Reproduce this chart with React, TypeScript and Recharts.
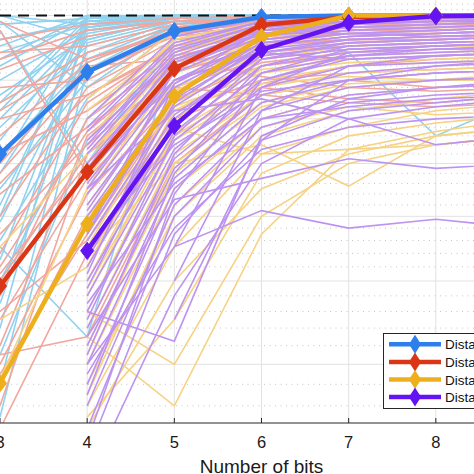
import React from 'react';
import { LineChart, Line, XAxis, YAxis, CartesianGrid, Legend } from 'recharts';

const bits = [3, 4, 5, 6, 7, 8, 9];

// thick mean curves
const distance1 = [62, 82.3, 94.8, 99.5, 100, 100, 100];
const distance2 = [39.3, 58.3, 83.2, 96.8, 99.5, 99.8, 100];
const distance3 = [28.1, 48.7, 75.7, 92.9, 100, 100, 100];
const distance4 = [null, 44.4, 68.3, 88.8, 97.5, 99.8, 100];
const seriesNames = ['Distance 1', 'Distance 2', 'Distance 3', 'Distance 4'];
const targetLevel = [100, 100, 100, 100, 100, 100, 100];

// individual runs, one array per run (bits 3..9)
const blueRuns = [
  [97, 99, 100, 100, 100, 100, 100], [92, 98, 100, 100, 100, 100, 100],
  [88, 97, 99, 100, 100, 100, 100], [84, 99, 100, 100, 100, 100, 100],
  [80, 95, 99, 100, 100, 100, 100], [76, 93, 98, 100, 100, 100, 100],
  [72, 98, 99, 100, 100, 100, 100], [68, 90, 97, 99, 100, 100, 100],
  [65, 96, 100, 100, 100, 100, 100], [62, 85, 96, 99, 100, 100, 100],
  [58, 92, 99, 100, 100, 100, 100], [55, 80, 94, 99, 100, 100, 100],
  [52, 97, 99, 100, 100, 100, 100], [49, 88, 98, 100, 100, 100, 100],
  [46, 75, 95, 99, 100, 100, 100], [43, 94, 99, 100, 100, 100, 100],
  [40, 70, 92, 98, 100, 100, 100], [37, 86, 97, 100, 100, 100, 100],
  [34, 99, 100, 100, 100, 100, 100], [31, 65, 90, 97, 99, 100, 100],
  [28, 91, 98, 100, 100, 100, 100], [100, 92, 99, 100, 100, 100, 100],
  [98, 78, 96, 100, 100, 100, 100], [95, 60, 93, 99, 100, 100, 100],
  [45, 33, 88, 99, 100, 100, 100], [70, 95, 98, 97, 88, 66, 75],
  [90, 100, 99, 100, 100, 100, 100], [25, 83, 97, 100, 100, 100, 100],
  [86, 100, 100, 100, 100, 100, 100], [74, 99, 100, 100, 100, 100, 100],
  [60, 98, 100, 100, 100, 100, 100], [50, 100, 99, 100, 100, 100, 100],
  [38, 96, 99, 100, 100, 100, 100], [100, 97, 100, 100, 100, 100, 100],
];
const salmonRuns = [
  [92, 97, 99, 100, 100, 100, 100], [88, 90, 97, 99, 100, 100, 100],
  [83, 93, 98, 99, 100, 100, 100], [78, 80, 94, 98, 99, 100, 100],
  [74, 88, 96, 98, 99, 99, 100], [70, 76, 90, 96, 98, 99, 99],
  [66, 85, 95, 97, 98, 98, 99], [62, 72, 88, 95, 97, 98, 98],
  [58, 82, 93, 96, 97, 97, 98], [54, 68, 85, 92, 95, 96, 96],
  [50, 78, 92, 95, 96, 97, 97], [47, 64, 82, 90, 93, 94, 95],
  [44, 74, 90, 94, 95, 95, 96], [41, 60, 80, 88, 91, 92, 93],
  [38, 70, 87, 92, 94, 94, 95], [35, 57, 78, 86, 89, 90, 91],
  [32, 66, 84, 90, 92, 93, 93], [30, 54, 75, 84, 87, 88, 89],
  [28, 50, 72, 80, 82, 83, 84], [26, 62, 83, 88, 90, 91, 92],
  [31, 33, 60, 76, 80, 78, 79], [36, 46, 70, 78, 75, 74, 76],
  [98, 86, 95, 98, 99, 100, 100], [95, 58, 86, 94, 96, 97, 97],
  [24, 44, 66, 79, 84, 86, 87], [40, 62, 78, 76, 74, 73, 74],
  [60, 84, 86, 81, 78, 77, 78], [86, 95, 98, 99, 99, 99, 100],
  [72, 86, 94, 96, 96, 96, 97], [56, 76, 89, 93, 94, 94, 95],
  [42, 67, 86, 91, 92, 92, 93], [29, 47, 74, 85, 88, 89, 89],
];
const yellowRuns = [
  [null, 75, 95, 99, 100, 100, 100], [null, 70, 92, 98, 99, 100, 100],
  [null, 65, 90, 97, 99, 99, 100], [null, 60, 88, 96, 98, 99, 99],
  [null, 57, 85, 94, 97, 98, 98], [null, 54, 82, 92, 95, 96, 97],
  [null, 51, 80, 90, 93, 94, 95], [null, 48, 77, 88, 91, 92, 93],
  [null, 45, 74, 86, 90, 91, 92], [null, 42, 72, 84, 88, 90, 90],
  [null, 40, 70, 83, 86, 87, 88], [null, 38, 67, 80, 84, 85, 86],
  [null, 36, 65, 78, 82, 83, 84], [null, 34, 62, 76, 80, 82, 83],
  [null, 32, 58, 73, 78, 80, 81], [null, 30, 55, 70, 76, 78, 79],
  [null, 28, 50, 66, 72, 75, 77], [null, 26, 45, 62, 68, 72, 74],
  [null, 33, 26, 47, 63, 67, 70], [null, 44, 60, 64, 55.5, 66, 68],
  [null, 50, 68, 62, 63, 64, 66], [45, 62, 82, 93, 96, 97, 98],
  [35, 42, 76, 90, 94, 95, 96], [28.5, 55, 87, 96, 98, 99, 99],
  [null, 24, 40, 55, 62, 66, 68], [null, 36, 30, 50, 60, 64, 66],
  [null, 72, 91, 96, 97, 98, 98], [null, 62, 86, 93, 95, 96, 96],
  [null, 52, 78, 87, 90, 91, 92], [null, 46, 73, 82, 85, 86, 87],
  [null, 39, 66, 79, 81, 80, 82], [null, 31, 60, 74, 79, 80, 80],
  [null, 27, 52, 68, 73, 71, 72], [null, 25, 35, 58, 66, 69, 71],
];
const violetRuns = [
  [null, 70, 93, 99, 100, 100, 100], [null, 67, 90, 98, 99, 100, 100],
  [null, 64, 89, 97, 99, 99, 100], [null, 62, 87, 96, 98, 99, 99],
  [null, 60, 85, 95, 98, 98, 99], [null, 58, 84, 94, 97, 98, 98],
  [null, 56, 82, 93, 96, 97, 98], [null, 54, 80, 92, 95, 96, 97],
  [null, 52, 78, 91, 94, 95, 96], [null, 50, 76, 90, 93, 94, 95],
  [null, 48, 75, 89, 92, 93, 94], [null, 46, 73, 88, 91, 92, 93],
  [null, 44, 71, 87, 90, 91, 92], [null, 42, 69, 86, 89, 90, 91],
  [null, 40, 67, 84, 88, 89, 90], [null, 38, 65, 82, 87, 88, 89],
  [null, 36, 63, 80, 86, 87, 88], [null, 34, 61, 78, 84, 85, 86],
  [null, 32, 59, 76, 82, 84, 85], [null, 30, 57, 74, 80, 82, 83],
  [null, 28, 55, 72, 78, 80, 81], [null, 26, 52, 70, 76, 78, 79],
  [null, 24, 50, 68, 74, 76, 77], [null, 22, 47, 65, 72, 74, 76],
  [null, 36, 32.5, 66, 75, 78, 80], [null, 30, 45, 51, 48, 49.5, 48],
  [null, 55, 72, 75, 70, 64, 66], [null, null, 45, 78, 88, 90, 91],
  [null, null, 40, 72, 84, 87, 88], [null, null, 35, 65, 80, 84, 86],
  [null, 65, 86, 94, 94, 93, 94], [null, 58, 80, 88, 86, 87, 88],
  [null, 20, 38, 60, 70, 73, 75], [null, 47, 83, 96, 99, 99, 100],
  [null, 41, 79, 95, 98, 99, 99], [null, 68, 91, 98, 99, 100, 100],
  [null, 63, 88, 97, 98, 99, 99], [null, 59, 86, 95, 97, 98, 99],
  [null, 55, 83, 94, 96, 97, 98], [null, 51, 79, 92, 95, 96, 97],
  [null, 47, 76, 91, 94, 95, 96], [null, 43, 74, 90, 93, 94, 95],
  [null, 39, 70, 88, 92, 93, 94], [null, 35, 66, 86, 91, 92, 93],
  [null, 31, 62, 84, 90, 91, 92], [null, 27, 58, 82, 89, 90, 91],
  [null, 23, 54, 80, 87, 89, 90], [null, 45, 64, 77, 80, 82, 83],
  [null, 37, 56, 70, 73, 75, 76], [null, 29, 48, 63, 68, 70, 71],
  [null, 33, 53, 57, 61, 59, 60],
];

const majorLevels = [30, 40, 50, 60, 70, 80, 90, 100];
const minorLevels = [26, 28, 32, 34, 36, 38, 42, 44, 46, 48, 52, 54, 56, 58, 62, 64, 66, 68, 72, 74, 76, 78, 82, 84, 86, 88, 92, 94, 96, 98, 102, 104];

const font = '"Liberation Sans", Arial, Helvetica, sans-serif';
const ink = '#262626';

const thinGroups = [
  { key: 'b', runs: blueRuns, color: '#8fd2ef' },
  { key: 's', runs: salmonRuns, color: '#f1a69e' },
  { key: 'y', runs: yellowRuns, color: '#f6d283' },
  { key: 'v', runs: violetRuns, color: '#bd93f1' },
];
const thickSeries = [
  { key: 'd1', values: distance1, color: '#2e7fec', name: seriesNames[0] },
  { key: 'd2', values: distance2, color: '#da3615', name: seriesNames[1] },
  { key: 'd3', values: distance3, color: '#edb01c', name: seriesNames[2] },
  { key: 'd4', values: distance4, color: '#6413f2', name: seriesNames[3] },
];

const rows = bits.map((b, i) => {
  const r: Record<string, number | null> = { bits: b, target: targetLevel[i] };
  thinGroups.forEach((g) => g.runs.forEach((run, j) => { r[`${g.key}${j}`] = run[i]; }));
  thickSeries.forEach((s) => { r[s.key] = s.values[i]; });
  return r;
});

const diamond = (cx: number, cy: number, w: number, h: number) =>
  `M${cx},${cy - h / 2} L${cx + w / 2},${cy} L${cx},${cy + h / 2} L${cx - w / 2},${cy} Z`;

const makeDot = (color: string) => (p: any) => {
  const { cx, cy, index, dataKey } = p;
  if (cx == null || cy == null || p.value == null) return <g key={`${dataKey}-${index}`} />;
  return <path key={`${dataKey}-${index}`} d={diamond(cx, cy, 13, 17)} fill={color} stroke={color} strokeWidth={1} />;
};

const BottomTick = ({ x, y, payload }: any) => (
  <g>
    <line x1={x} x2={x} y1={y} y2={y - 5} stroke={ink} />
    <text x={x} y={y + 24.5} textAnchor="middle" fontSize={16.5} fontFamily={font} fill="#1a1a1a">{payload.value}</text>
  </g>
);
const TopTick = ({ x, y }: any) => <line x1={x} x2={x} y1={y} y2={y + 5} stroke={ink} />;
const LeftTick = ({ x, y, payload }: any) => (
  <line x1={x} x2={x + (payload.value % 10 === 0 ? 5 : 3)} y1={y} y2={y} stroke={ink} />
);

const LegendBox = () => (
  <svg width={140} height={76} style={{ display: 'block' }}>
    <rect x={0.5} y={0.5} width={139} height={75} fill="#fff" stroke={ink} strokeWidth={1} />
    {thickSeries.map((s, i) => {
      const cy = 11.3 + i * 17.6;
      return (
        <g key={s.key}>
          <line x1={6} x2={58} y1={cy} y2={cy} stroke={s.color} strokeWidth={4.5} />
          <path d={diamond(32, cy, 12, 19)} fill={s.color} />
          <text x={62} y={cy + 5} fontSize={13.5} fontFamily={font} fill="#111">{s.name}</text>
        </g>
      );
    })}
  </svg>
);

export default function App() {
  return (
    <div style={{ position: 'fixed', left: 0, top: 0, width: 474, height: 474, overflow: 'hidden', background: '#fff' }}>
      <LineChart width={533} height={474} data={rows} margin={{ top: 0, right: 10, bottom: 0, left: 0 }}>
        <CartesianGrid stroke="#e2e2e2" horizontalValues={majorLevels} verticalValues={[4, 5, 6, 7, 8]} />
        <CartesianGrid stroke="#c6c6c6" strokeDasharray="1 4.5" vertical={false} horizontalValues={minorLevels} />
        <XAxis dataKey="bits" type="number" domain={[3, 9]} ticks={bits} interval={0} allowDataOverflow height={51}
          axisLine={{ stroke: ink }} tickLine={false} tickSize={0} tickMargin={0} tick={<BottomTick />}
          label={{ value: 'Number of bits', position: 'insideBottom', offset: 1, fontSize: 19, fontFamily: font, fill: '#1a1a1a' }} />
        <XAxis xAxisId="top" orientation="top" dataKey="bits" type="number" domain={[3, 9]} ticks={[4, 5, 6, 7, 8]} interval={0} height={0}
          axisLine={{ stroke: ink }} tickLine={false} tickSize={0} tickMargin={0} tick={<TopTick />} />
        <YAxis type="number" scale="log" domain={[24.5, 105.5]} allowDataOverflow width={0} interval={0}
          ticks={[...majorLevels, ...minorLevels].sort((a, b) => a - b)}
          axisLine={{ stroke: ink }} tickLine={false} tickSize={0} tickMargin={0} tick={<LeftTick />} />
        {thinGroups.map((g) => g.runs.map((_, j) => (
          <Line key={`${g.key}${j}`} dataKey={`${g.key}${j}`} stroke={g.color} strokeWidth={1.6}
            dot={false} activeDot={false} legendType="none" isAnimationActive={false} />
        )))}
        <Line dataKey="target" stroke="#111" strokeWidth={2} strokeDasharray="11 7" dot={false}
          activeDot={false} legendType="none" isAnimationActive={false} />
        {thickSeries.map((s) => (
          <Line key={s.key} dataKey={s.key} name={s.name} stroke={s.color} strokeWidth={4.5}
            dot={makeDot(s.color)} activeDot={false} isAnimationActive={false} />
        ))}
        <Legend layout="horizontal" verticalAlign="middle" align="center" content={() => <LegendBox />}
          wrapperStyle={{ left: 383, top: 333, width: 140, height: 76 }} />
      </LineChart>
    </div>
  );
}
